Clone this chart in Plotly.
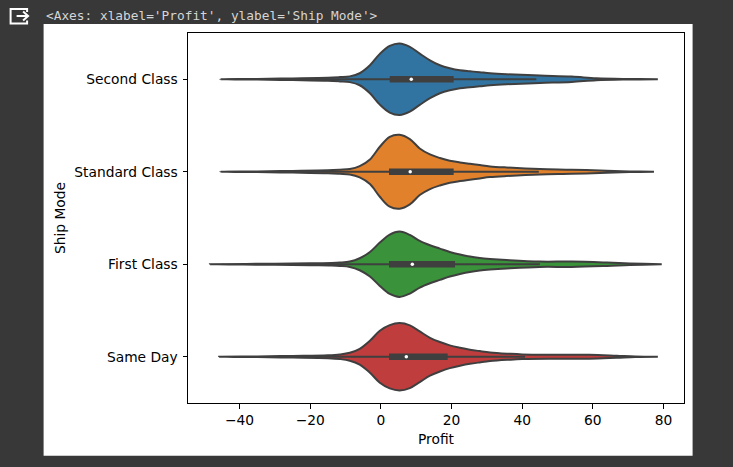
import plotly.graph_objects as go

# ship modes, top to bottom
ship_modes = ["Second Class", "Standard Class", "First Class", "Same Day"]
colors = ["#3274a1", "#e1812c", "#3a923a", "#c03d3e"]

# violin outlines: profit and half width of the violin
second_profit = [-45.5, -35, -25, -15, -11.6, -8.8, -6, -3.1, -.3, 2.5, 5.3, 8.2, 11, 13.9, 16.7, 19.5, 22.4, 25.2, 28, 30.9, 35.6, 45, 54, 61, 69.6, 78.4]
second_width = [0, .004, .009, .016, .023, .031, .065, .151, .274, .36, .386, .35, .277, .205, .151, .119, .097, .086, .076, .065, .054, .04, .029, .011, .003, 0]
standard_profit = [-45.5, -35, -25, -15, -11.6, -8.8, -6, -3.1, -.3, 2.5, 5.3, 8.2, 11, 13.9, 16.7, 19.5, 22.4, 25.2, 28, 30.9, 35.6, 45, 54, 64, 70.5, 77.3]
standard_width = [0, .004, .009, .016, .022, .029, .061, .133, .27, .378, .4, .353, .252, .187, .148, .119, .101, .086, .072, .058, .046, .029, .022, .011, .004, 0]
first_profit = [-48.4, -30, -20, -14, -11.6, -8.8, -6, -3.1, -.3, 2.5, 5.3, 8.2, 11, 13.9, 16.7, 19.5, 22.4, 25.2, 28, 30.9, 35.6, 45, 54, 64, 70.5, 79.5]
first_width = [0, .006, .011, .014, .018, .029, .065, .133, .234, .321, .353, .317, .252, .205, .169, .133, .105, .083, .068, .058, .046, .029, .029, .018, .008, 0]
sameday_profit = [-45.8, -35, -25, -15, -11.6, -8.8, -6, -3.1, -.3, 2.5, 5.3, 8.2, 11, 13.9, 16.7, 19.5, 22.4, 25.2, 28, 30.9, 36, 40, 49.8, 59, 66.8, 72, 78.4]
sameday_width = [0, .004, .009, .016, .025, .043, .086, .173, .281, .342, .364, .339, .274, .205, .159, .123, .097, .076, .061, .047, .033, .025, .022, .022, .011, .003, 0]

profits = [second_profit, standard_profit, first_profit, sameday_profit]
widths = [second_width, standard_width, first_width, sameday_width]

# box stats per ship mode
q1 = [2.5, 2.3, 2.3, 2.3]
median = [8.6, 8.3, 8.9, 7.2]
q3 = [20.6, 20.6, 21, 18.9]
whisker_low = [-24.7, -25, -25.7, -22]
whisker_high = [44, 44.7, 45, 40.8]

tick_vals = [-40, -20, 0, 20, 40, 60, 80]

W, H = 733, 467
LEFT, RIGHT, TOP, BOTTOM = 188.4, 684.4, 33, 403.3
DARK = "#383838"
OUTLINE = "#3f3f3f"
FONT = "DejaVu Sans"
FONT_SIZE = 13.8


def px_x(x):
    return (x - LEFT) / (RIGHT - LEFT)


def px_y(y):
    return (BOTTOM - y) / (BOTTOM - TOP)


fig = go.Figure()

for i, mode in enumerate(ship_modes):
    xs = profits[i] + profits[i][::-1]
    ys = [i - w for w in widths[i]] + [i + w for w in widths[i][::-1]]
    fig.add_trace(go.Scatter(x=xs, y=ys, mode="lines", fill="toself", fillcolor=colors[i],
                             line=dict(color=OUTLINE, width=2, shape="spline", smoothing=1),
                             hoverinfo="skip", name=mode))
    fig.add_trace(go.Scatter(x=[whisker_low[i], whisker_high[i]], y=[i, i], mode="lines",
                             line=dict(color=OUTLINE, width=2), hoverinfo="skip"))
    fig.add_trace(go.Scatter(x=[q1[i], q3[i]], y=[i, i], mode="lines",
                             line=dict(color=OUTLINE, width=6.5), hoverinfo="skip"))
    fig.add_trace(go.Scatter(x=[median[i]], y=[i], mode="markers",
                             marker=dict(color="white", size=3.5), hoverinfo="skip"))

# white figure card on the dark notebook background
shapes = [dict(type="rect", xref="paper", yref="paper", layer="below",
               x0=px_x(44), x1=px_x(693), y0=px_y(456), y1=px_y(24),
               fillcolor="white", line=dict(width=0))]

# output icon
icon = dict(type="path", xref="paper", yref="paper",
            line=dict(color="white", width=2))
shapes.append(dict(icon, path="M %f %f L %f %f L %f %f L %f %f L %f %f L %f %f" % (
    px_x(27.5), px_y(12), px_x(27.5), px_y(9), px_x(11), px_y(9),
    px_x(11), px_y(23.5), px_x(27.5), px_y(23.5), px_x(27.5), px_y(20.5))))
shapes.append(dict(icon, path="M %f %f L %f %f M %f %f L %f %f L %f %f" % (
    px_x(17), px_y(16), px_x(28.5), px_y(16),
    px_x(23.5), px_y(11.5), px_x(28.5), px_y(16), px_x(23.5), px_y(20.5))))

fig.update_layout(
    width=W, height=H,
    margin=dict(l=LEFT, r=W - RIGHT, t=TOP, b=H - BOTTOM, pad=0),
    paper_bgcolor=DARK, plot_bgcolor="white",
    showlegend=False,
    font=dict(family=FONT, size=FONT_SIZE, color="black"),
    shapes=shapes,
    annotations=[dict(text="&lt;Axes: xlabel='Profit', ylabel='Ship Mode'&gt;",
                      xref="paper", yref="paper", x=px_x(44), y=px_y(15.5),
                      xanchor="left", yanchor="middle", showarrow=False,
                      font=dict(family="DejaVu Sans Mono", size=12.8, color="#d5d5d5"))],
)
fig.update_xaxes(range=[-54.6, 85.8], tickvals=tick_vals, ticks="outside", ticklen=4.5, tickwidth=1,
                 tickcolor="black", showline=True, linecolor="black", linewidth=1, mirror=True,
                 showgrid=False, zeroline=False,
                 title=dict(text="Profit", standoff=7, font=dict(size=FONT_SIZE)))
fig.update_yaxes(range=[3.5, -0.5], tickvals=list(range(len(ship_modes))), ticktext=ship_modes,
                 ticks="outside", ticklen=4.5, tickwidth=1, tickcolor="black", showline=True,
                 linecolor="black", linewidth=1, mirror=True, showgrid=False, zeroline=False,
                 ticklabelstandoff=2,
                 title=dict(text="Ship Mode", standoff=5, font=dict(size=FONT_SIZE)))

# page body has a default margin that would push the figure off the window
fig.write_html("out.html", config={"displayModeBar": False},
               post_script="document.body.style.margin = '0';")
